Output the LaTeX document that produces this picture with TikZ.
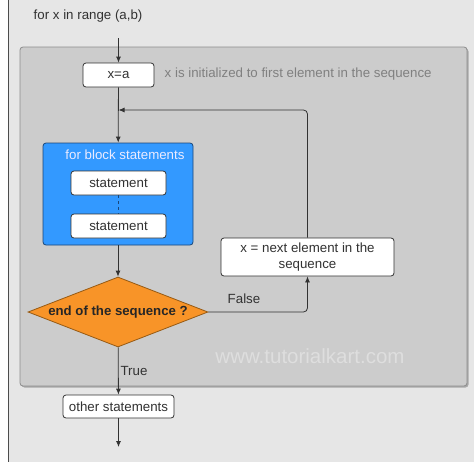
\documentclass[tikz,border=0pt]{standalone}
\usepackage{fontspec}
\setmainfont{Liberation Sans}
\usetikzlibrary{arrows.meta,shapes.geometric,shadows}
\definecolor{colOut}{RGB}{230,230,230}
\definecolor{colIn}{RGB}{204,204,204}
\definecolor{colBlue}{RGB}{51,153,255}
\definecolor{colBlueLine}{RGB}{26,70,120}
\definecolor{colOrange}{RGB}{248,148,40}
\definecolor{colOrangeLine}{RGB}{150,90,20}
\definecolor{colText}{RGB}{50,50,50}
\definecolor{colNote}{RGB}{128,128,128}
\definecolor{colMark}{RGB}{222,222,222}

\begin{document}
\begin{tikzpicture}[
		x=1pt,y=-1pt,line width=0.8pt,
		every node/.style={font=\fontsize{13.3}{15.5}\selectfont,text=colText},
		box/.style={draw=colText,fill=white,rounded corners=3pt,inner sep=2pt},
		arr/.style={draw=colText,-{Latex[length=6pt,width=5pt]}},
		lbl/.style={inner sep=1pt}
	]
	\useasboundingbox (0,0) rectangle (474,466);
	\clip (0,0) rectangle (474,466);

	%background boxes
		\fill[white] (0,0) rectangle (474,466);
		\fill[colOut] (8,0) rectangle (474,462);
		\draw[black!70] (8,0) -- (8,462);
		\node[anchor=west] (title) at (30,16) {for x in range (a,b)};
		\draw[fill=colIn,draw=black!45,rounded corners=3pt,
			drop shadow={shadow xshift=1.5pt,shadow yshift=-1.5pt,fill=black!40,opacity=0.8}]
			(20,47) rectangle (467,386);
		\node (mark) at (310,356) {\fontsize{20.5}{24}\selectfont\color{colMark}www.tutorialkart.com};

	%nodes
		\node[box,minimum width=71pt,minimum height=24pt] (xa) at (118.5,75) {x=a};
		\node[anchor=west,text=colNote] (note) at (161,74) {x is initialized to first element in the sequence};
		\node[draw=colBlueLine,fill=colBlue,rounded corners=3pt,minimum width=150pt,minimum height=102pt] (block) at (118,194) {};
		\node[text=blue!8!white] (blocktitle) at (125,155) {for block statements};
		\node[box,minimum width=95pt,minimum height=24pt] (st1) at (118.5,183) {statement};
		\node[box,minimum width=95pt,minimum height=24pt] (st2) at (118.5,226) {statement};
		\node[diamond,draw=colOrangeLine,fill=colOrange,aspect=2.57,inner sep=0pt,
			minimum width=180pt,minimum height=70pt,font=\fontsize{13.2}{15}\selectfont\bfseries,text=black!85] (cond) at (118,312) {end of the sequence ?};
		\node[box,align=center,minimum width=173pt,minimum height=38pt] (next) at (307.5,257) {x = next element in the\\sequence};
		\node[box,minimum width=111pt,minimum height=23pt] (other) at (118.5,406.5) {other statements};
		\coordinate (start) at (118.5,38);
		\coordinate (join) at (118.5,110);
		\coordinate (stop) at (118.5,447);

	%edges
		\draw[arr] (start) -- (xa);
		\draw[arr] (xa) -- (block);
		\draw[arr,rounded corners=4pt] (next.north) |- (join);
		\draw[colBlueLine,dashed,line width=0.6pt] (st1) -- (st2);
		\draw[arr] (block) -- (cond);
		\draw[arr,rounded corners=4pt] (cond.east) -| (next.south);
		\node[lbl] (false) at (244,299) {False};
		\draw[arr] (cond) -- (other);
		\node[lbl] (true) at (134,371) {True};
		\draw[arr] (other) -- (stop);
\end{tikzpicture}
\end{document}
